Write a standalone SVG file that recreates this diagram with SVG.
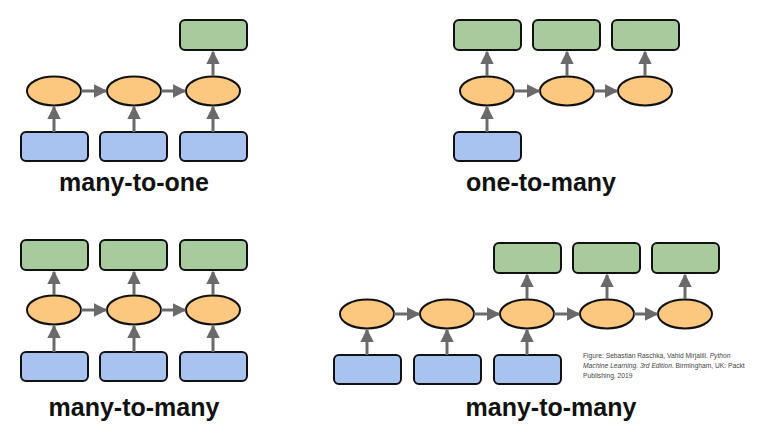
<svg xmlns="http://www.w3.org/2000/svg" width="757" height="443" viewBox="0 0 757 443">
<defs>
<marker id="ah" viewBox="0 0 10 10" refX="9" refY="5" markerWidth="4.5" markerHeight="4.5" orient="auto"><path d="M0,0 L10,5 L0,10 z" fill="#6a6a6a"/></marker>
<style>
.i{fill:#a9c3f0;stroke:#111;stroke-width:2}
.o{fill:#a7cb9c;stroke:#111;stroke-width:2}
.h{fill:#fcc880;stroke:#111;stroke-width:2}
.c line{stroke:#6a6a6a;stroke-width:3;marker-end:url(#ah)}
.t{font-family:"Liberation Sans",Arial,sans-serif;font-weight:bold;font-size:25px;text-anchor:middle;fill:#111}
.f{font-family:"Liberation Sans",Arial,sans-serif;font-size:6.7px;fill:#444}
</style>
</defs>
<rect width="757" height="443" fill="#fff"/>
<g id="n1">
<rect class="i" x="21" y="132" width="67" height="29" rx="5"/><rect class="i" x="100" y="132" width="67" height="29" rx="5"/><rect class="i" x="180" y="132" width="67" height="29" rx="5"/>
<ellipse class="h" cx="54" cy="91" rx="27" ry="14.5"/><ellipse class="h" cx="134" cy="91" rx="27" ry="14.5"/><ellipse class="h" cx="213" cy="91" rx="27" ry="14.5"/>
<rect class="o" x="180" y="20" width="67" height="30" rx="5"/>
<text class="t" x="134" y="191">many-to-one</text>
</g>
<g id="n2">
<rect class="i" x="454" y="132" width="67" height="29" rx="5"/>
<ellipse class="h" cx="487" cy="91" rx="27" ry="14.5"/><ellipse class="h" cx="567" cy="91" rx="27" ry="14.5"/><ellipse class="h" cx="645" cy="91" rx="27" ry="14.5"/>
<rect class="o" x="454" y="20" width="67" height="30" rx="5"/><rect class="o" x="533" y="20" width="67" height="30" rx="5"/><rect class="o" x="612" y="20" width="67" height="30" rx="5"/>
<text class="t" x="541" y="191">one-to-many</text>
</g>
<g id="n3">
<rect class="i" x="21" y="352" width="67" height="29" rx="5"/><rect class="i" x="100" y="352" width="67" height="29" rx="5"/><rect class="i" x="180" y="352" width="67" height="29" rx="5"/>
<ellipse class="h" cx="54" cy="310" rx="27" ry="14.5"/><ellipse class="h" cx="134" cy="310" rx="27" ry="14.5"/><ellipse class="h" cx="213" cy="310" rx="27" ry="14.5"/>
<rect class="o" x="21" y="240" width="67" height="30" rx="5"/><rect class="o" x="100" y="240" width="67" height="30" rx="5"/><rect class="o" x="180" y="240" width="67" height="30" rx="5"/>
<text class="t" x="134" y="416">many-to-many</text>
</g>
<g id="n4">
<rect class="i" x="334" y="355" width="67" height="29" rx="5"/><rect class="i" x="414" y="355" width="67" height="29" rx="5"/><rect class="i" x="494" y="355" width="67" height="29" rx="5"/>
<ellipse class="h" cx="367" cy="314" rx="27" ry="14.5"/><ellipse class="h" cx="447" cy="314" rx="27" ry="14.5"/><ellipse class="h" cx="527" cy="314" rx="27" ry="14.5"/><ellipse class="h" cx="607" cy="314" rx="27" ry="14.5"/><ellipse class="h" cx="685" cy="314" rx="27" ry="14.5"/>
<rect class="o" x="494" y="243" width="67" height="30" rx="5"/><rect class="o" x="573" y="243" width="67" height="30" rx="5"/><rect class="o" x="652" y="243" width="67" height="30" rx="5"/>
<text class="t" x="551" y="416">many-to-many</text>
</g>
<g id="caption">
<text class="f" x="583" y="358">Figure: Sebastian Raschka, Vahid Mirjalili. <tspan font-style="italic">Python</tspan></text>
<text class="f" x="583" y="368"><tspan font-style="italic">Machine Learning. 3rd Edition</tspan>. Birmingham, UK: Packt</text>
<text class="f" x="583" y="378">Publishing, 2019</text>
</g>
<g class="c" id="connectors">
<line x1="54" y1="132" x2="54" y2="107"/><line x1="134" y1="132" x2="134" y2="107"/><line x1="213" y1="132" x2="213" y2="107"/>
<line x1="81" y1="91" x2="106" y2="91"/><line x1="161" y1="91" x2="185" y2="91"/><line x1="213" y1="76" x2="213" y2="52"/>
<line x1="487" y1="132" x2="487" y2="107"/><line x1="514" y1="91" x2="539" y2="91"/><line x1="594" y1="91" x2="617" y2="91"/>
<line x1="487" y1="76" x2="487" y2="52"/><line x1="567" y1="76" x2="567" y2="52"/><line x1="645" y1="76" x2="645" y2="52"/>
<line x1="54" y1="352" x2="54" y2="326"/><line x1="134" y1="352" x2="134" y2="326"/><line x1="213" y1="352" x2="213" y2="326"/>
<line x1="81" y1="310" x2="106" y2="310"/><line x1="161" y1="310" x2="185" y2="310"/>
<line x1="54" y1="295" x2="54" y2="272"/><line x1="134" y1="295" x2="134" y2="272"/><line x1="213" y1="295" x2="213" y2="272"/>
<line x1="367" y1="355" x2="367" y2="330"/><line x1="447" y1="355" x2="447" y2="330"/><line x1="527" y1="355" x2="527" y2="330"/>
<line x1="394" y1="314" x2="419" y2="314"/><line x1="474" y1="314" x2="499" y2="314"/><line x1="554" y1="314" x2="579" y2="314"/><line x1="634" y1="314" x2="657" y2="314"/>
<line x1="527" y1="299" x2="527" y2="275"/><line x1="607" y1="299" x2="607" y2="275"/><line x1="685" y1="299" x2="685" y2="275"/>
</g>
</svg>
